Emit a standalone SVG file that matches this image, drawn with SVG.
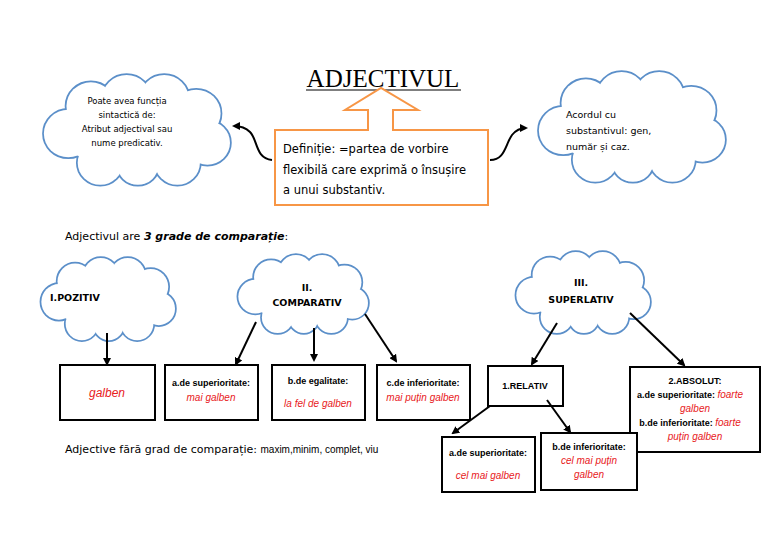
<svg xmlns="http://www.w3.org/2000/svg" width="768" height="543" viewBox="0 0 768 543" xmlns:xlink="http://www.w3.org/1999/xlink">
<style>
.cs{fill:none;stroke:#5b8fc9;stroke-width:3.5}
.cf{fill:#fff;stroke:none}
.bx{fill:#fff;stroke:#000;stroke-width:2}
.t{font-family:"DejaVu Sans",sans-serif;fill:#000}
.b{font-family:"Liberation Sans",sans-serif;font-weight:bold;font-size:9px;fill:#000}
.r{font-family:"Liberation Sans",sans-serif;font-style:italic;font-weight:normal;font-size:10px;fill:#e8201c}
.ln{fill:none;stroke:#000;stroke-width:2;marker-end:url(#ah)}
</style>
<defs>
<marker id="ah" markerWidth="8" markerHeight="8" refX="6" refY="4" orient="auto" markerUnits="userSpaceOnUse"><path d="M0,0 L8,4 L0,8 Z" fill="#000"/></marker>
<g id="cl"><circle cx="14" cy="32" r="13" vector-effect="non-scaling-stroke"/><circle cx="26" cy="17" r="13" vector-effect="non-scaling-stroke"/><circle cx="45" cy="13" r="13" vector-effect="non-scaling-stroke"/><circle cx="65" cy="13" r="13" vector-effect="non-scaling-stroke"/><circle cx="82" cy="21" r="13" vector-effect="non-scaling-stroke"/><circle cx="88" cy="37" r="12" vector-effect="non-scaling-stroke"/><circle cx="72" cy="48" r="12" vector-effect="non-scaling-stroke"/><circle cx="51" cy="49" r="11" vector-effect="non-scaling-stroke"/><circle cx="31" cy="48" r="12" vector-effect="non-scaling-stroke"/><circle cx="50" cy="32" r="20" vector-effect="non-scaling-stroke"/></g>
<g id="clx"><circle cx="28" cy="32" r="15"/><circle cx="72" cy="32" r="15"/><circle cx="40" cy="40" r="12"/><circle cx="62" cy="40" r="12"/><circle cx="40" cy="22" r="12"/><circle cx="62" cy="22" r="12"/></g>
</defs>
<rect width="768" height="543" fill="#fff"/>
<g id="title"><text x="383" y="87" text-anchor="middle" font-family="Liberation Serif,serif" font-size="25">ADJECTIVUL</text><line x1="306" y1="90" x2="461" y2="90" stroke="#000" stroke-width="1.2"/></g>
<g id="cloud-tl"><use xlink:href="#cl" class="cs" transform="translate(42,75) scale(1.88,1.83)"/><use xlink:href="#cl" class="cf" transform="translate(42,75) scale(1.88,1.83)"/><use xlink:href="#clx" class="cf" transform="translate(42,75) scale(1.88,1.83)"/>
<text class="t" font-size="8.5" text-anchor="middle"><tspan x="127" y="104">Poate avea funcția</tspan><tspan x="127" y="118">sintactică de:</tspan><tspan x="127" y="132">Atribut adjectival sau</tspan><tspan x="127" y="146">nume predicativ.</tspan></text></g>
<g id="cloud-tr"><use xlink:href="#cl" class="cs" transform="translate(537,72) scale(1.88,1.83)"/><use xlink:href="#cl" class="cf" transform="translate(537,72) scale(1.88,1.83)"/><use xlink:href="#clx" class="cf" transform="translate(537,72) scale(1.88,1.83)"/>
<text class="t" font-size="9.5"><tspan x="566" y="118">Acordul cu</tspan><tspan x="566" y="134">substantivul: gen,</tspan><tspan x="566" y="150">număr și caz.</tspan></text></g>
<g id="definitie"><path d="M275,130 H368 V110 H345 L381,88 L418,110 H393 V130 H488 V205 H275 Z" fill="#fff" stroke="#f79646" stroke-width="2"/>
<text class="t" font-size="11.5"><tspan x="283" y="153">Definiție: =partea de vorbire</tspan><tspan x="283" y="174">flexibilă care exprimă o însușire</tspan><tspan x="283" y="194">a unui substantiv.</tspan></text></g>
<text class="t" font-size="11" x="65" y="240">Adjectivul are <tspan font-weight="bold" font-style="italic">3 grade de comparație</tspan>:</text>
<g id="pozitiv"><use xlink:href="#cl" class="cs" transform="translate(40,258) scale(1.35,1.37)"/><use xlink:href="#cl" class="cf" transform="translate(40,258) scale(1.35,1.37)"/><use xlink:href="#clx" class="cf" transform="translate(40,258) scale(1.35,1.37)"/><text class="t" font-size="9.5" font-weight="bold" x="50" y="301">I.POZITIV</text></g>
<g id="comparativ"><use xlink:href="#cl" class="cs" transform="translate(237,255) scale(1.31,1.3)"/><use xlink:href="#cl" class="cf" transform="translate(237,255) scale(1.31,1.3)"/><use xlink:href="#clx" class="cf" transform="translate(237,255) scale(1.31,1.3)"/><text class="t" font-size="9.5" font-weight="bold" text-anchor="middle"><tspan x="307" y="291">II.</tspan><tspan x="307" y="306">COMPARATIV</tspan></text></g>
<g id="superlativ"><use xlink:href="#cl" class="cs" transform="translate(515,252) scale(1.35,1.35)"/><use xlink:href="#cl" class="cf" transform="translate(515,252) scale(1.35,1.35)"/><use xlink:href="#clx" class="cf" transform="translate(515,252) scale(1.35,1.35)"/><text class="t" font-size="9.5" font-weight="bold" text-anchor="middle"><tspan x="581" y="286">III.</tspan><tspan x="581" y="303">SUPERLATIV</tspan></text></g>
<g id="b-galben"><rect class="bx" x="60" y="365" width="95" height="55"/><text class="r" x="107" y="397" text-anchor="middle" style="font-size:12px">galben</text></g>
<g id="b-sup"><rect class="bx" x="165" y="365" width="93" height="55"/><text text-anchor="middle"><tspan class="b" x="211" y="386">a.de superioritate:</tspan><tspan class="r" x="211" y="401">mai galben</tspan></text></g>
<g id="b-egal"><rect class="bx" x="272" y="365" width="93" height="55"/><text text-anchor="middle"><tspan class="b" x="318" y="384">b.de egalitate:</tspan><tspan class="r" x="318" y="407">la fel de galben</tspan></text></g>
<g id="b-inf"><rect class="bx" x="377" y="365" width="93" height="55"/><text text-anchor="middle"><tspan class="b" x="423" y="386">c.de inferioritate:</tspan><tspan class="r" x="423" y="401">mai puțin galben</tspan></text></g>
<g id="b-relativ"><rect class="bx" x="488" y="366" width="75" height="40"/><text class="b" x="525" y="389" text-anchor="middle" font-weight="normal">1.RELATIV</text></g>
<g id="b-absolut"><rect class="bx" x="630" y="367" width="130" height="85"/><text text-anchor="middle"><tspan class="b" x="695" y="384">2.ABSOLUT:</tspan><tspan class="b" x="690" y="398">a.de superioritate: <tspan class="r">foarte</tspan></tspan><tspan class="r" x="695" y="412">galben</tspan><tspan class="b" x="690" y="426">b.de inferioritate: <tspan class="r">foarte</tspan></tspan><tspan class="r" x="695" y="440">puțin galben</tspan></text></g>
<g id="b-rel-sup"><rect class="bx" x="442" y="437" width="93" height="55"/><text text-anchor="middle"><tspan class="b" x="488" y="456">a.de superioritate:</tspan><tspan class="r" x="488" y="479">cel mai galben</tspan></text></g>
<g id="b-rel-inf"><rect class="bx" x="541" y="433" width="96" height="57"/><text text-anchor="middle"><tspan class="b" x="589" y="450">b.de inferioritate:</tspan><tspan class="r" x="589" y="464">cel mai puțin</tspan><tspan class="r" x="589" y="478">galben</tspan></text></g>
<text class="t" font-size="11" x="65" y="453">Adjective fără grad de comparație: <tspan font-family="Liberation Sans,sans-serif" font-size="10">maxim,minim, complet, viu</tspan></text>
<g id="connectors">
<path class="ln" d="M272,160 C255,158 258,140 250,132 C245,127 240,126 234,126"/>
<path class="ln" d="M490,160 C505,160 505,145 512,135 C516,130 520,128 526,128"/>
<path class="ln" d="M107,333 V364"/>
<path class="ln" d="M256,322 L236,364"/>
<path class="ln" d="M314,328 V360"/>
<path class="ln" d="M365,314 L396,361"/>
<path class="ln" d="M557,323 L532,364"/>
<path class="ln" d="M630,313 L684,365"/>
<path class="ln" d="M490,406 L453,433"/>
<path class="ln" d="M547,400 L570,432"/>
</g>
</svg>
